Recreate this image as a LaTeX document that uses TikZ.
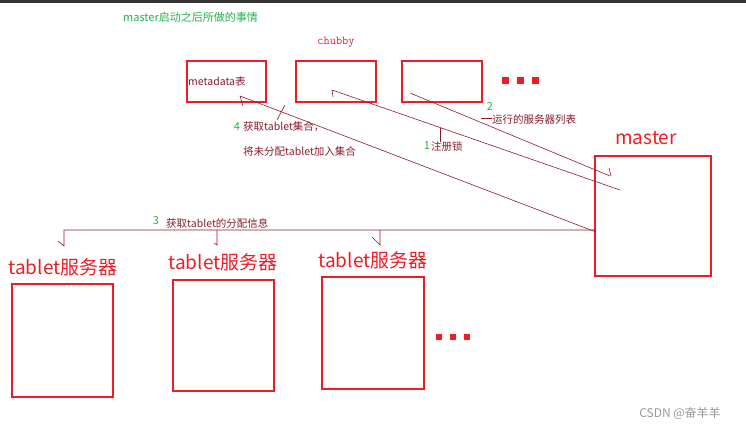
\documentclass[tikz,border=0pt]{standalone}
\usepackage{fontspec}
\setmainfont{Noto Sans CJK SC}
\definecolor{rr}{HTML}{EE1C25}
\definecolor{dr}{HTML}{8B1A2A}
\definecolor{gg}{HTML}{22B14C}
\begin{document}
\begin{tikzpicture}[x=1pt,y=-1pt,
  rbox/.style={draw=rr,line width=2.2pt,inner sep=0pt,anchor=north west},
  rlabel/.style={text=rr,font=\fontsize{19}{19}\selectfont,inner sep=0pt},
  lab/.style={text=dr,font=\fontsize{10.5}{10.5}\selectfont,inner sep=0pt,anchor=west},
  num/.style={text=gg,font=\fontsize{11}{11}\selectfont,inner sep=0pt},
  conn/.style={draw=dr,line width=0.6pt},
  sq/.style={fill=rr,minimum width=7pt,minimum height=7pt,inner sep=0pt}]
\useasboundingbox (0,0) rectangle (746,434);
\fill[black!80] (0,0) rectangle (746,3);
\node[num,anchor=west] (title) at (123,17) {master启动之后所做的事情};
\node[text=rr,font=\ttfamily\fontsize{12}{12}\selectfont,inner sep=0pt] (chubby) at (336,42) {chubby};
\node[rbox,minimum width=79pt,minimum height=41pt] (meta) at (186,60) {};
\node[text=dr,font=\fontsize{10.5}{10.5}\selectfont,inner sep=0pt,anchor=west] (metat) at (188,82) {metadata表};
\node[rbox,minimum width=80pt,minimum height=41pt] (c2) at (295,60) {};
\node[rbox,minimum width=80pt,minimum height=41pt] (c3) at (401,60) {};
\node[sq] (d1a) at (505,80) {}; \node[sq] (d1b) at (520,80) {}; \node[sq] (d1c) at (535,80) {};
\node[rlabel] (mlab) at (646,138) {master};
\node[rbox,minimum width=116pt,minimum height=120pt] (master) at (594,155) {};
\node[rlabel] (t1l) at (63,267) {tablet服务器};
\node[rlabel] (t2l) at (223,262) {tablet服务器};
\node[rlabel] (t3l) at (373,260) {tablet服务器};
\node[rbox,minimum width=101pt,minimum height=113pt] (t1) at (11,283) {};
\node[rbox,minimum width=101pt,minimum height=111pt] (t2) at (172,279) {};
\node[rbox,minimum width=102pt,minimum height=112pt] (t3) at (321,276) {};
\node[sq,minimum width=6pt,minimum height=6pt] (d2a) at (439,337) {}; \node[sq,minimum width=6pt,minimum height=6pt] (d2b) at (453,337) {}; \node[sq,minimum width=6pt,minimum height=6pt] (d2c) at (467,337) {};
\coordinate (a4s) at (596,232); \coordinate (a4e) at (240,96);
\coordinate (a1s) at (620,190); \coordinate (a1e) at (332,90);
\coordinate (a2s) at (610,176); \coordinate (a2e) at (410,93);
\draw[conn] (a4s) -- (a4e) -- (243,106);
\draw[conn] (a1s) -- (a1e) -- (333,97);
\draw[conn] (a2s) -- (a2e);
\draw[conn] (611,176) -- (609,168);
\draw[conn] (285,105) -- (277,120);
\draw[conn] (440,128) -- (440,142);
\draw[conn] (481,118) -- (492,118);
\coordinate (h0) at (596,230); \coordinate (h1) at (64,230);
\draw[conn] (h0) -- (h1) -- (64,246) -- (58,241);
\draw[conn] (217,230) -- (217,245) -- (214,243);
\draw[conn] (380,230) -- (380,245) -- (372,237);
\node[num] (n4) at (237,127) {4};
\node[lab] (l4) at (243,127) {获取tablet集合，};
\node[lab] (l4b) at (243,152) {将未分配tablet加入集合};
\node[num] (n1) at (427,146) {1};
\node[lab] (l1) at (431,147) {注册锁};
\node[num] (n2) at (490,107) {2};
\node[lab] (l2) at (492,120) {运行的服务器列表};
\node[num] (n3) at (156,221) {3};
\node[lab] (l3) at (166,223) {获取tablet的分配信息};
\node[text=black!40,font=\fontsize{12}{12}\selectfont,inner sep=0pt] (wm) at (680,413) {CSDN @奋羊羊};
\end{tikzpicture}
\end{document}
